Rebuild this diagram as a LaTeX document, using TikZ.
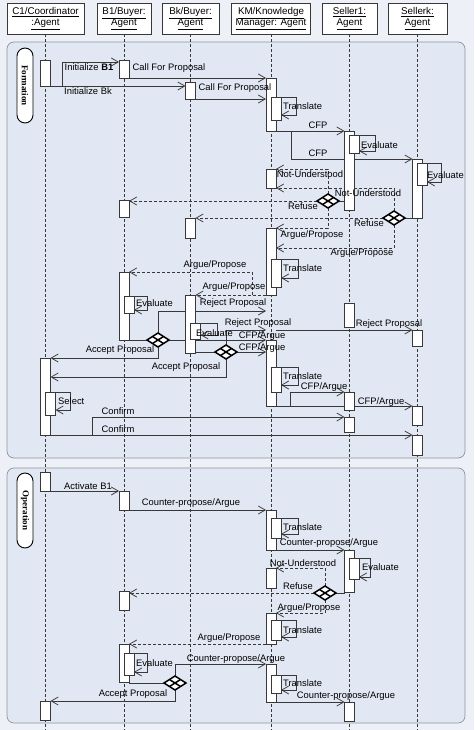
\documentclass[tikz,border=0pt]{standalone}
\usepackage{fontspec}
\setmainfont{Liberation Sans}
\newfontfamily\serifbold{Liberation Serif}
\usetikzlibrary{arrows.meta}
\pgfdeclarelayer{back}
\pgfdeclarelayer{mid}
\pgfsetlayers{back,mid,main}
\definecolor{bgc}{HTML}{EDF1F7}
\definecolor{framec}{HTML}{E2E8F3}
\definecolor{linec}{HTML}{383838}
\definecolor{framedraw}{HTML}{8E939C}
\tikzset{
  actbox/.style={draw=linec, fill=white, line width=0.6pt, inner sep=0pt, outer sep=0pt, minimum width=10pt},
  msg/.style={draw=linec, line width=0.75pt, -{Straight Barb[length=7pt,width=8pt]}},
  ret/.style={msg, dash pattern=on 3pt off 2pt},
  plain/.style={draw=linec, line width=0.75pt},
  lifeline/.style={draw=linec, line width=0.6pt, dash pattern=on 3pt off 2pt},
  head/.style={draw=linec, fill=white, line width=0.6pt, inner sep=0pt, align=center, minimum height=31pt, font=\fontsize{9.8}{11}\selectfont},
  lbl/.style={inner sep=0pt, font=\fontsize{9.4}{11}\selectfont},
  frame/.style={draw=framedraw, fill=framec, line width=0.7pt, rounded corners=7pt},
  pill/.style={draw=black, fill=white, line width=0.9pt, rounded corners=8pt, inner sep=0pt, minimum width=75pt, minimum height=16pt, rotate=-90, font=\serifbold\bfseries\fontsize{9}{10}\selectfont},
  decis/.pic={
    \draw[line width=1.5pt, fill=white, line join=miter] (0,-7) -- (11,0) -- (0,7) -- (-11,0) -- cycle;
    \draw[line width=1.5pt] (5.5,-3.5) -- (-5.5,3.5) (-5.5,-3.5) -- (5.5,3.5);
    \coordinate (-n) at (0,-7); \coordinate (-s) at (0,7);
    \coordinate (-e) at (11,0); \coordinate (-w) at (-11,0);
  }
}
\newcommand\act[4]{\node[actbox, minimum height={#4-#3}] (#1) at (#2,{(#3+#4)/2}) {};}
\begin{document}
\begin{tikzpicture}[x=1pt,y=-1pt]
\useasboundingbox (0,0) rectangle (474,730);
\begin{pgfonlayer}{back}
\fill[bgc] (0,0) rectangle (474,730);
\draw[frame] (7,42) rectangle (465,458);
\draw[frame] (7,468) rectangle (465,723);
\end{pgfonlayer}
% headers
\node[head, minimum width=77pt] (hc) at (45.5,18.5) {\underline{C1/Coordinator}\\\underline{:Agent}};
\node[head, minimum width=54pt] (hb) at (124,18.5) {\underline{B1/Buyer:}\\\underline{Agent}};
\node[head, minimum width=57pt] (hk) at (190.5,18.5) {\underline{Bk/Buyer:}\\\underline{Agent}};
\node[head, minimum width=79pt] (hm) at (271,18.5) {\underline{KM/Knowledge}\\\underline{Manager: Agent}};
\node[head, minimum width=55pt] (hs) at (349.5,18.5) {\underline{Seller1:}\\\underline{Agent}};
\node[head, minimum width=59pt] (ht) at (417.5,18.5) {\underline{Sellerk:}\\\underline{Agent}};
\begin{pgfonlayer}{back}
\foreach \h in {hc,hb,hk,hm,hs,ht} \draw[lifeline] (\h.south) -- (\h.south |- 0,730);
\end{pgfonlayer}
% fragments
\node[pill] (pf) at (25,85.5) {Formation};
\node[pill] (po) at (25,510.5) {Operation};
% activations: formation
\act{c1a}{45.5}{60}{86}
\act{b1a}{124}{60}{78}
\act{bka}{190.5}{82}{99}
\act{kma}{271}{78}{131}
\act{kmt1}{276}{97}{120}
\act{s1a}{349.5}{131}{210}
\act{s1e}{354}{135}{153}
\act{ska}{417.5}{159}{218}
\act{ske}{422}{163}{185}
\act{kmn1}{271}{169}{188}
\act{b1b}{124}{200}{217}
\act{bkb}{190.5}{218}{238}
\act{kmb}{271}{228}{295}
\act{kmt2}{276}{259}{287}
\act{b1c}{124}{272}{340}
\act{b1e}{129}{296}{313}
\act{bkc}{190.5}{295}{353}
\act{bke}{195.5}{323}{339}
\act{s1b}{349.5}{303}{327}
\act{skb}{417.5}{330}{346}
\act{kmc}{271}{340}{406}
\act{kmt3}{276}{367}{392}
\act{s1c}{349.5}{392}{410}
\act{skc}{417.5}{406}{425}
\act{c1b}{45.5}{358}{435}
\act{c1s}{50.5}{392}{415}
\act{s1d}{349.5}{417}{432}
\act{skd}{417.5}{435}{455}
% activations: operation
\act{c1c}{45.5}{472}{491}
\act{b1d}{124}{491}{510}
\act{kmd}{271}{510}{550}
\act{kmt4}{276}{518}{538}
\act{s1f}{349.5}{550}{592}
\act{s1g}{354}{558}{579}
\act{kmn2}{271}{568}{588}
\act{b1f}{124}{591}{610}
\act{kme}{271}{613}{644}
\act{kmt5}{276}{620}{640}
\act{b1g}{124}{644}{682}
\act{b1h}{129}{653}{675}
\act{kmf}{271}{664}{702}
\act{kmt6}{276}{675}{693}
\act{s1h}{349.5}{702}{721}
\act{c1d}{45.5}{701}{720}
% decisions
\pic (d1) at (328,201) {decis};
\pic (d2) at (394,218) {decis};
\pic (d3) at (158,340) {decis};
\pic (d4) at (226,352) {decis};
\pic (d5) at (325,593) {decis};
\pic (d6) at (175,683) {decis};
% messages
\begin{pgfonlayer}{mid}
\coordinate (ib) at (62,86);
\draw[msg] (ib) |- (b1a.west |- 0,62);
\draw[msg] (c1a.south east) -- (bka.west |- 0,86);
\draw[msg] (b1a.south east) -- (kma.north west);
\draw[msg] (bka.south east) -- (kma.west |- 0,99);
\draw[msg] (kmt1.north east) -| (296,115) -- (kmt1.east |- 0,115);
\draw[msg] (kma.south east) -- (s1a.north west);
\coordinate (cf2) at (291,131);
\draw[msg] (cf2) |- (ska.north west);
\draw[msg] (s1e.north east) -| (375,151) -- (s1e.east |- 0,151);
\draw[msg] (ske.north east) -| (441,182) -- (ske.east |- 0,182);
\draw[plain] (s1a.west |- d1-e) -- (d1-e);
\draw[plain] (ska.west |- d2-e) -- (d2-e);
\draw[ret] (d1-n) |- (kmn1.north east);
\draw[ret] (d2-n) |- (kmn1.south east);
\draw[ret] (d1-w) -- (b1b.east |- d1-w);
\draw[ret] (d2-w) -- (bkb.east |- d2-w);
\draw[ret] (d1-s) |- (kmb.north east);
\draw[ret] (d2-s) |- (kmb.east |- 0,248);
\draw[msg] (kmt2.north east) -| (298,278) -- (kmt2.east |- 0,278);
\draw[ret] (kmb.south west) -- (bkc.north east);
\coordinate (ap) at (252,295);
\draw[ret] (ap) |- (b1c.north east);
\draw[msg] (b1e.north east) -| (147,310) -- (b1e.east |- 0,310);
\draw[msg] (bke.north east) -| (217,335) -- (bke.east |- 0,335);
\draw[plain] (b1c.east |- d3-w) -- (d3-w);
\draw[msg] (d3-n) |- (kmc.west |- 0,311);
\draw[msg] (d3-s) |- (c1b.north east);
\draw[msg] (d3-e) -- (kmc.north west);
\draw[plain] (bkc.east |- d4-w) -- (d4-w);
\draw[msg] (d4-n) |- (kmc.west |- 0,330);
\draw[msg] (d4-e) -- (kmc.west |- d4-e);
\draw[msg] (d4-s) |- (c1b.east |- 0,377);
\draw[msg] (kmc.east |- 0,330) -- (skb.north west);
\draw[msg] (kmt3.north east) -| (298,385) -- (kmt3.east |- 0,385);
\coordinate (ca) at (290,406);
\draw[msg] (ca) |- (s1c.north west);
\draw[msg] (kmc.south east) -- (skc.north west);
\draw[msg] (c1s.north east) -| (70,410) -- (c1s.east |- 0,410);
\coordinate (cf) at (92,435);
\draw[msg] (cf) |- (s1d.north west);
\draw[msg] (c1b.south east) -- (skd.north west);
% operation
\draw[msg] (c1c.south east) -- (b1d.north west);
\draw[msg] (b1d.south east) -- (kmd.north west);
\draw[msg] (kmt4.north east) -| (298,534) -- (kmt4.east |- 0,534);
\draw[msg] (kmd.south east) -- (s1f.north west);
\draw[msg] (s1g.north east) -| (370,577) -- (s1g.east |- 0,577);
\draw[plain] (s1f.west |- d5-e) -- (d5-e);
\draw[ret] (d5-n) |- (kmn2.north east);
\draw[ret] (d5-w) -- (b1f.east |- d5-w);
\draw[ret] (d5-s) |- (kme.north east);
\draw[msg] (kmt5.north east) -| (296,637) -- (kmt5.east |- 0,637);
\draw[ret] (kme.south west) -- (b1g.north east);
\draw[msg] (b1h.north east) -| (147,672) -- (b1h.east |- 0,672);
\draw[plain] (b1g.east |- d6-w) -- (d6-w);
\draw[msg] (d6-n) |- (kmf.north west);
\draw[msg] (kmt6.north east) -| (296,690) -- (kmt6.east |- 0,690);
\draw[msg] (kmf.south east) -- (s1h.north west);
\draw[msg] (d6-s) |- (c1d.north east);
\end{pgfonlayer}
% labels
\node[lbl] (t1) at (89,67) {Initialize \textbf{B1}};
\node[lbl] (t2) at (88,91) {Initialize Bk};
\node[lbl] (t3) at (169,68) {Call For Proposal};
\node[lbl] (t4) at (235,88) {Call For Proposal};
\node[lbl, anchor=west] (t5) at (283,106) {Translate};
\node[lbl] (t6) at (318,125) {CFP};
\node[lbl] (t7) at (318,153) {CFP};
\node[lbl, anchor=west] (t8) at (361,145) {Evaluate};
\node[lbl, anchor=west] (t9) at (427,175) {Evaluate};
\node[lbl] (t10) at (310,174) {Not-Understood};
\node[lbl] (t11) at (368,193) {Not-Understood};
\node[lbl] (t12) at (303,206) {Refuse};
\node[lbl] (t13) at (369,223) {Refuse};
\node[lbl] (t14) at (312,235) {Argue/Propose};
\node[lbl] (t15) at (362,253) {Argue/Propose};
\node[lbl, anchor=west] (t16) at (283,268) {Translate};
\node[lbl] (t17) at (215,265) {Argue/Propose};
\node[lbl] (t18) at (234,287) {Argue/Propose};
\node[lbl, anchor=west] (t19) at (136,303) {Evaluate};
\node[lbl, anchor=west] (t20) at (196,333) {Evaluate};
\node[lbl] (t21) at (233,303) {Reject Proposal};
\node[lbl] (t22) at (258,323) {Reject Proposal};
\node[lbl] (t23) at (389,324) {Reject Proposal};
\node[lbl] (t24) at (262,336) {CFP/Argue};
\node[lbl] (t25) at (262,348) {CFP/Argue};
\node[lbl] (t26) at (120,350) {Accept Proposal};
\node[lbl] (t27) at (186,367) {Accept Proposal};
\node[lbl, anchor=west] (t28) at (283,376) {Translate};
\node[lbl] (t29) at (324,387) {CFP/Argue};
\node[lbl] (t30) at (381,402) {CFP/Argue};
\node[lbl, anchor=west] (t31) at (58,401) {Select};
\node[lbl] (t32) at (118,411) {Confirm};
\node[lbl] (t33) at (118,429) {Confirm};
\node[lbl] (t34) at (88,486) {Activate B1};
\node[lbl] (t35) at (191,503) {Counter-propose/Argue};
\node[lbl, anchor=west] (t36) at (283,527) {Translate};
\node[lbl] (t37) at (329,543) {Counter-propose/Argue};
\node[lbl, anchor=west] (t38) at (362,567) {Evaluate};
\node[lbl] (t39) at (303,563) {Not-Understood};
\node[lbl] (t40) at (298,586) {Refuse};
\node[lbl] (t41) at (309,608) {Argue/Propose};
\node[lbl, anchor=west] (t42) at (283,630) {Translate};
\node[lbl] (t43) at (229,638) {Argue/Propose};
\node[lbl, anchor=west] (t44) at (136,663) {Evaluate};
\node[lbl] (t45) at (236,659) {Counter-propose/Argue};
\node[lbl, anchor=west] (t46) at (283,683) {Translate};
\node[lbl] (t47) at (346,696) {Counter-propose/Argue};
\node[lbl] (t48) at (133,694) {Accept Proposal};
\end{tikzpicture}
\end{document}
